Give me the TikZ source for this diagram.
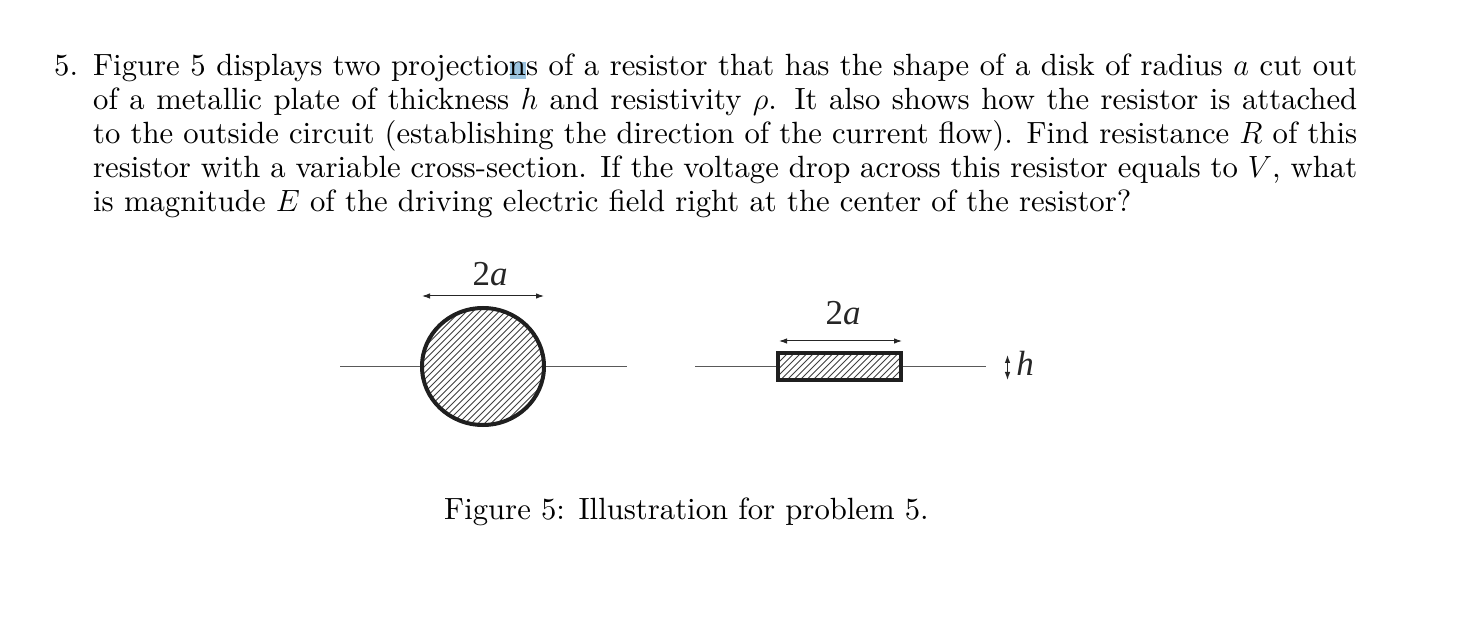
\RequirePackage{fix-cm}
\documentclass[tikz,border=0pt]{standalone}
\usepackage{fontspec}
\usetikzlibrary{arrows.meta,shapes.geometric}
\setmainfont{lmroman10-regular}[Extension=.otf]
\newfontfamily\labelfont{Liberation Serif}
\newcommand{\fullline}[1]{\makebox[1264pt][s]{#1}}
\definecolor{markblue}{HTML}{9CC4E0}
\tikzset{
  txt/.style={anchor=base west,inner sep=0pt,font=\fontsize{30.7}{34}\selectfont},
  lab/.style={anchor=base,inner sep=0pt,text=black!85,font=\fontsize{35}{40}\selectfont\labelfont\itshape},
  wire/.style={line width=1.1pt,black!65},
  dim/.style={{Latex[length=8pt,width=5.5pt]}-{Latex[length=8pt,width=5.5pt]},line width=1pt,black!85},
  hatched/.style={draw=black!88,line width=4pt,inner sep=0pt,path picture={
    \foreach \hh in {-130,-123.5,...,130}
      \draw[line width=0.75pt,black!75] ([shift={(\hh-70,70)}]path picture bounding box.center) -- ++(140,-140);
  }},
}
\begin{document}
\begin{tikzpicture}[x=1pt,y=-1pt]
   \useasboundingbox[fill=white] (0,0) rectangle (1465,628);
   \node[fill=markblue,minimum width=16pt,minimum height=17pt,inner sep=0pt] (mark) at (518,70.5) {};
   \node[txt] (num) at (54,76) {5.};
   \node[txt] (line1) at (93,76)  {\fullline{Figure 5 displays two projections of a resistor that has the shape of a disk of radius $a$ cut out}};
   \node[txt] (line2) at (93,110) {\fullline{of a metallic plate of thickness $h$ and resistivity $\rho$. It also shows how the resistor is attached}};
   \node[txt] (line3) at (93,144) {\fullline{to the outside circuit (establishing the direction of the current flow). Find resistance $R$ of this}};
   \node[txt] (line4) at (93,178) {\fullline{resistor with a variable cross-section. If the voltage drop across this resistor equals to $V$, what}};
   \node[txt] (line5) at (93,212) {is magnitude $E$ of the driving electric field right at the center of the resistor?};
   % left view
   \node[hatched,ellipse,minimum width=122pt,minimum height=117pt] (disk) at (483,366.5) {};
   \coordinate (wireA) at (340,366.5);
   \coordinate (wireB) at (627,366.5);
   \draw[wire] (wireA) -- (disk);
   \draw[wire] (disk) -- (wireB);
   \coordinate (dimA) at (422,296);
   \coordinate (dimB) at (544,296);
   \draw[dim] (dimA) -- (dimB);
   \node[lab] (diskwidth) at (490,286) {{\upshape 2}a};
   % right view
   \node[hatched,rectangle,minimum width=123pt,minimum height=27pt] (plate) at (839.5,366.5) {};
   \coordinate (wireC) at (695,366.5);
   \coordinate (wireD) at (986,366.5);
   \draw[wire] (wireC) -- (plate);
   \draw[wire] (plate) -- (wireD);
   \coordinate (dimC) at (779,341);
   \coordinate (dimD) at (902,341);
   \draw[dim] (dimC) -- (dimD);
   \node[lab] (platewidth) at (843,325) {{\upshape 2}a};
   \coordinate (dimE) at (1007.5,355);
   \coordinate (dimF) at (1007.5,380);
   \draw[dim] (dimE) -- (dimF);
   \node[lab] (thick) at (1025,375) {h};
   % caption
   \node[txt,anchor=base] (caption) at (686.5,519) {Figure 5: Illustration for problem 5.};
\end{tikzpicture}
\end{document}
